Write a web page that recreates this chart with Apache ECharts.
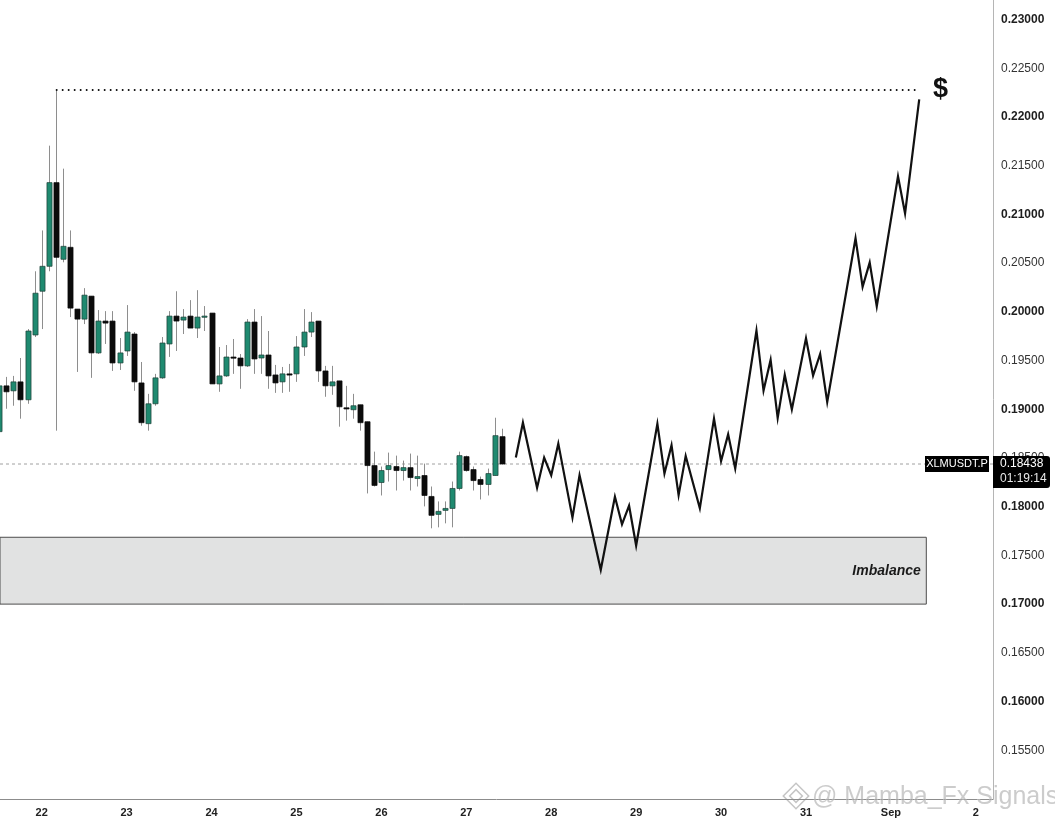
<!DOCTYPE html>
<html>
<head>
<meta charset="utf-8">
<script src="https://cdn.jsdelivr.net/npm/echarts@6/dist/echarts.min.js"></script>
<style>
html,body{margin:0;padding:0;background:#fff;}
#chart{width:1055px;height:820px;}
</style>
</head>
<body>
<div id="chart"></div>
<script>
// ---- data ----
const candleTime = [
'2025-08-21 12:00','2025-08-21 14:00','2025-08-21 16:00','2025-08-21 18:00','2025-08-21 20:00','2025-08-21 22:00',
'2025-08-22 00:00','2025-08-22 02:00','2025-08-22 04:00','2025-08-22 06:00','2025-08-22 08:00','2025-08-22 10:00',
'2025-08-22 12:00','2025-08-22 14:00','2025-08-22 16:00','2025-08-22 18:00','2025-08-22 20:00','2025-08-22 22:00',
'2025-08-23 00:00','2025-08-23 02:00','2025-08-23 04:00','2025-08-23 06:00','2025-08-23 08:00','2025-08-23 10:00',
'2025-08-23 12:00','2025-08-23 14:00','2025-08-23 16:00','2025-08-23 18:00','2025-08-23 20:00','2025-08-23 22:00',
'2025-08-24 00:00','2025-08-24 02:00','2025-08-24 04:00','2025-08-24 06:00','2025-08-24 08:00','2025-08-24 10:00',
'2025-08-24 12:00','2025-08-24 14:00','2025-08-24 16:00','2025-08-24 18:00','2025-08-24 20:00','2025-08-24 22:00',
'2025-08-25 00:00','2025-08-25 02:00','2025-08-25 04:00','2025-08-25 06:00','2025-08-25 08:00','2025-08-25 10:00',
'2025-08-25 12:00','2025-08-25 14:00','2025-08-25 16:00','2025-08-25 18:00','2025-08-25 20:00','2025-08-25 22:00',
'2025-08-26 00:00','2025-08-26 02:00','2025-08-26 04:00','2025-08-26 06:00','2025-08-26 08:00','2025-08-26 10:00',
'2025-08-26 12:00','2025-08-26 14:00','2025-08-26 16:00','2025-08-26 18:00','2025-08-26 20:00','2025-08-26 22:00',
'2025-08-27 00:00','2025-08-27 02:00','2025-08-27 04:00','2025-08-27 06:00','2025-08-27 08:00','2025-08-27 10:00'
];
const candleOpen = [
0.18770,0.19240,0.19189,0.19281,0.19097,0.19762,0.20211,0.20467,0.21326,0.20539,0.20662,0.20028,
0.19925,0.20161,0.19578,0.19905,0.19905,0.19475,0.19598,0.19772,0.19270,0.18852,0.19056,0.19322,
0.19670,0.19956,0.19915,0.19956,0.19833,0.19946,0.19987,0.19260,0.19342,0.19536,0.19526,0.19445,
0.19895,0.19526,0.19557,0.19352,0.19281,0.19363,0.19363,0.19639,0.19792,0.19905,0.19393,0.19240,
0.19291,0.19015,0.18995,0.19046,0.18872,0.18422,0.18248,0.18381,0.18412,0.18371,0.18401,0.18289,
0.18320,0.18105,0.17921,0.17962,0.17982,0.18187,0.18514,0.18381,0.18279,0.18228,0.18320,0.18719
];
const candleClose = [
0.19240,0.19179,0.19281,0.19097,0.19803,0.20191,0.20467,0.21326,0.20559,0.20672,0.20038,0.19925,
0.20171,0.19578,0.19905,0.19884,0.19475,0.19578,0.19792,0.19281,0.18862,0.19056,0.19322,0.19680,
0.19956,0.19905,0.19946,0.19833,0.19946,0.19956,0.19260,0.19342,0.19536,0.19526,0.19445,0.19895,
0.19516,0.19557,0.19342,0.19270,0.19363,0.19363,0.19639,0.19792,0.19895,0.19393,0.19240,0.19281,
0.19025,0.19015,0.19036,0.18862,0.18422,0.18218,0.18371,0.18422,0.18371,0.18401,0.18299,0.18309,
0.18115,0.17911,0.17952,0.17982,0.18187,0.18524,0.18371,0.18268,0.18228,0.18340,0.18729,0.18438
];
const candleLow = [
0.18729,0.19005,0.19036,0.18903,0.19056,0.19741,0.19823,0.20416,0.18780,0.20508,0.19946,0.19383,
0.19874,0.19322,0.19568,0.19670,0.19393,0.19403,0.19547,0.19189,0.18831,0.18780,0.19036,0.19312,
0.19537,0.19598,0.19772,0.19833,0.19731,0.19803,0.19260,0.19179,0.19332,0.19363,0.19210,0.19434,
0.19363,0.19363,0.19210,0.19168,0.19168,0.19179,0.19281,0.19547,0.19741,0.19281,0.19128,0.19148,
0.18821,0.18883,0.18903,0.18780,0.18136,0.18207,0.18115,0.18258,0.18166,0.18268,0.18166,0.18207,
0.18003,0.17778,0.17788,0.17829,0.17788,0.18166,0.18360,0.18166,0.18074,0.18115,0.18320,0.18433
];
const candleHigh = [
0.19281,0.19332,0.19342,0.19526,0.19823,0.20416,0.20835,0.21705,0.22277,0.21469,0.20835,0.20028,
0.20243,0.20161,0.20018,0.20007,0.20007,0.19731,0.20069,0.19792,0.19485,0.19158,0.19363,0.19741,
0.20007,0.20211,0.20028,0.20120,0.20222,0.20059,0.19987,0.19639,0.19659,0.19721,0.19567,0.19925,
0.20028,0.19956,0.19803,0.19455,0.19434,0.19465,0.19751,0.20028,0.19997,0.19905,0.19445,0.19445,
0.19291,0.19240,0.19158,0.19046,0.18872,0.18565,0.18412,0.18555,0.18524,0.18473,0.18545,0.18524,
0.18442,0.18207,0.18054,0.18054,0.18258,0.18565,0.18524,0.18412,0.18309,0.18391,0.18913,0.18800
];

const projTime = [
'2025-08-27 14:00','2025-08-27 16:00','2025-08-27 20:00','2025-08-27 22:00','2025-08-28 00:00',
'2025-08-28 02:00','2025-08-28 06:00','2025-08-28 08:00','2025-08-28 14:00','2025-08-28 18:00',
'2025-08-28 20:00','2025-08-28 22:00','2025-08-29 00:00','2025-08-29 06:00','2025-08-29 08:00',
'2025-08-29 10:00','2025-08-29 12:00','2025-08-29 14:00','2025-08-29 18:00','2025-08-29 22:00',
'2025-08-30 00:00','2025-08-30 02:00','2025-08-30 04:00','2025-08-30 10:00','2025-08-30 12:00',
'2025-08-30 14:00','2025-08-30 16:00','2025-08-30 18:00','2025-08-30 20:00','2025-08-31 00:00',
'2025-08-31 02:00','2025-08-31 04:00','2025-08-31 06:00','2025-08-31 14:00','2025-08-31 16:00',
'2025-08-31 18:00','2025-08-31 20:00','2025-09-01 02:00','2025-09-01 04:00','2025-09-01 08:00'
];
const projPrice = [
0.18504,0.18862,0.18194,0.18504,0.18323,
0.18647,0.17888,0.18323,0.17352,0.18102,
0.17819,0.18010,0.17601,0.18851,0.18340,
0.18630,0.18119,0.18521,0.17983,0.18903,
0.18468,0.18742,0.18392,0.19806,0.19192,
0.19506,0.18910,0.19353,0.18998,0.19728,
0.19346,0.19567,0.19074,0.20754,0.20256,
0.20505,0.20055,0.21391,0.21009,0.22179
];

const liquidityLevel = 0.22277;
const liquidityStart = '2025-08-22 04:00';
const liquidityEnd = '2025-09-01 08:00';
const dollarAt = '2025-09-01 14:00';

const imbalanceTop = 0.17686;
const imbalanceBottom = 0.17000;
const imbalanceEnd = '2025-09-01 10:00';

const lastPrice = 0.18438;
const symbolName = 'XLMUSDT.P';
const countdown = '01:19:14';

const dayDates = ['2025-08-22','2025-08-23','2025-08-24','2025-08-25','2025-08-26','2025-08-27',
                  '2025-08-28','2025-08-29','2025-08-30','2025-08-31','2025-09-01','2025-09-02'];
const dayLabels = ['22','23','24','25','26','27','28','29','30','31','Sep','2'];

const xMin = '2025-08-21 12:13';
const xMax = '2025-09-02 04:51';

// ---- build ----
const FONT = '"Liberation Sans", Arial, Helvetica, sans-serif';
const candleData = candleTime.map((t, i) => [t, candleOpen[i], candleClose[i], candleLow[i], candleHigh[i]]);
const projData = projTime.map((t, i) => [t, projPrice[i]]);
const dayKey = {};
dayDates.forEach((d, i) => { dayKey[d] = dayLabels[i]; });
function pad(n){return n < 10 ? '0' + n : '' + n;}

const chart = echarts.init(document.getElementById('chart'), null, {renderer: 'canvas'});

const option = {
  backgroundColor: '#ffffff',
  animation: false,
  grid: {left: 0, right: 62, top: 0, bottom: 21, containLabel: false},
  xAxis: {
    type: 'time',
    min: xMin,
    max: xMax,
    minInterval: 24 * 3600 * 1000,
    maxInterval: 24 * 3600 * 1000,
    splitLine: {show: false},
    axisTick: {show: false},
    axisLine: {show: true, lineStyle: {color: '#8c8c8c', width: 1}},
    axisLabel: {
      margin: 8,
      fontSize: 11,
      fontWeight: 'bold',
      color: '#222',
      fontFamily: FONT,
      hideOverlap: false,
      formatter: function (value) {
        const d = new Date(value);
        const key = d.getFullYear() + '-' + pad(d.getMonth() + 1) + '-' + pad(d.getDate());
        return dayKey[key] || '';
      }
    }
  },
  yAxis: {
    type: 'value',
    position: 'right',
    min: 0.15,
    max: 0.232,
    interval: 0.005,
    scale: true,
    splitLine: {show: false},
    axisTick: {show: false},
    axisLine: {show: true, lineStyle: {color: '#b5b5b5', width: 1}},
    axisLabel: {
      margin: 8,
      showMinLabel: false,
      showMaxLabel: false,
      fontFamily: FONT,
      formatter: function (v) {
        const s = v.toFixed(5);
        const major = Math.round(v * 1000) % 10 === 0;
        return major ? '{b|' + s + '}' : '{n|' + s + '}';
      },
      rich: {
        b: {fontSize: 12, fontWeight: 'bold', color: '#1e1e1e', fontFamily: FONT},
        n: {fontSize: 12, fontWeight: 'normal', color: '#333', fontFamily: FONT}
      }
    }
  },
  series: [
    {
      type: 'line',
      name: 'lastPriceLine',
      z: 2,
      showSymbol: false,
      symbol: 'none',
      silent: true,
      lineStyle: {color: '#a0a0a0', type: [3, 3], width: 1},
      data: [[xMin, lastPrice], [xMax, lastPrice]]
    },
    {
      type: 'custom',
      name: 'candles',
      clip: true,
      z: 3,
      encode: {x: 0, y: [1, 2, 3, 4]},
      data: candleData,
      renderItem: function (params, api) {
        const t = api.value(0);
        const o = api.value(1), c = api.value(2), l = api.value(3), h = api.value(4);
        const pO = api.coord([t, o]);
        const pC = api.coord([t, c]);
        const pL = api.coord([t, l]);
        const pH = api.coord([t, h]);
        const w = api.size([2 * 3600 * 1000, 0])[0] * 0.72;
        const up = c > o;
        const top = Math.min(pO[1], pC[1]);
        const bot = Math.max(pO[1], pC[1]);
        const cx = Math.round(pO[0]) + 0.5;
        return {
          type: 'group',
          children: [
            {type: 'line', shape: {x1: cx, y1: pH[1], x2: cx, y2: pL[1]},
             style: {stroke: '#8e8e8e', lineWidth: 1}},
            {type: 'rect', shape: {x: cx - w / 2, y: top, width: w, height: Math.max(bot - top, 1.2)},
             style: {fill: up ? '#1f8a70' : '#0b0b0b', stroke: up ? '#1d3f36' : '#0b0b0b', lineWidth: 0.7}}
          ]
        };
      },
      markArea: {
        silent: true,
        itemStyle: {color: '#e1e2e2', borderColor: '#4d4d4d', borderWidth: 1},
        label: {
          show: true,
          position: 'insideRight',
          distance: 6,
          formatter: 'Imbalance',
          fontFamily: FONT,
          fontStyle: 'italic',
          fontWeight: 'bold',
          fontSize: 14,
          color: '#1a1a1a'
        },
        data: [[
          {coord: [xMin, imbalanceTop]},
          {coord: [imbalanceEnd, imbalanceBottom]}
        ]]
      }
    },
    {
      type: 'line',
      name: 'liquidity',
      z: 4,
      showSymbol: false,
      symbol: 'none',
      lineStyle: {color: '#1a1a1a', width: 2, type: [1.6, 4.4]},
      data: [[liquidityStart, liquidityLevel], [liquidityEnd, liquidityLevel]],
      markPoint: {
        silent: true,
        symbol: 'circle',
        symbolSize: 0,
        label: {show: true, formatter: '$', fontSize: 27, fontWeight: 'bold', color: '#111', fontFamily: FONT},
        data: [{coord: [dollarAt, liquidityLevel]}]
      }
    },
    {
      type: 'line',
      name: 'projection',
      z: 5,
      showSymbol: false,
      symbol: 'none',
      lineStyle: {color: '#111', width: 2.2, join: 'miter'},
      data: projData
    }
  ]
};

chart.setOption(option);

// price tag & watermark
const yPix = chart.convertToPixel({yAxisIndex: 0}, lastPrice);
chart.setOption({
  graphic: [
    {type: 'rect', z: 100, shape: {x: 925, y: yPix - 8, width: 64, height: 16},
     style: {fill: '#000'}},
    {type: 'text', z: 101, x: 957, y: yPix, style: {text: symbolName, fill: '#fff', fontSize: 11, fontFamily: FONT,
      align: 'center', verticalAlign: 'middle'}},
    {type: 'rect', z: 100, shape: {x: 993, y: yPix - 8, width: 57, height: 32, r: [0, 3, 3, 0]},
     style: {fill: '#000'}},
    {type: 'text', z: 101, x: 1000, y: yPix, style: {text: lastPrice.toFixed(5), fill: '#fff', fontSize: 12, fontFamily: FONT,
      align: 'left', verticalAlign: 'middle'}},
    {type: 'text', z: 101, x: 1000, y: yPix + 15, style: {text: countdown, fill: '#e8e8e8', fontSize: 12, fontFamily: FONT,
      align: 'left', verticalAlign: 'middle'}},
    {type: 'group', z: 110, x: 796, y: 796, rotation: Math.PI / 4, children: [
      {type: 'rect', shape: {x: -9, y: -9, width: 18, height: 18}, style: {fill: 'none', stroke: 'rgba(150,150,150,0.55)', lineWidth: 1.5}},
      {type: 'rect', shape: {x: -4.5, y: -4.5, width: 9, height: 9}, style: {fill: 'none', stroke: 'rgba(150,150,150,0.55)', lineWidth: 1.5}}
    ]},
    {type: 'text', z: 110, x: 812, y: 797, style: {text: '@ Mamba_Fx Signals', fill: 'rgba(170,170,170,0.6)',
      stroke: 'rgba(255,255,255,0.5)', lineWidth: 0.5,
      fontSize: 25, fontFamily: FONT, align: 'left', verticalAlign: 'middle'}}
  ]
});
</script>
</body>
</html>
